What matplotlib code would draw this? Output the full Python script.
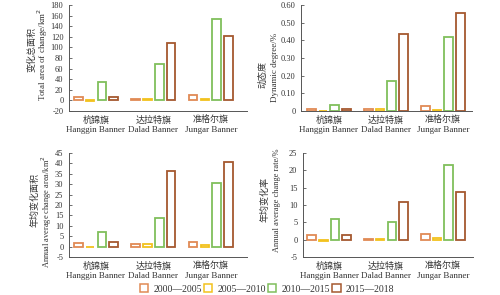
import matplotlib
matplotlib.use("Agg")
import matplotlib.pyplot as plt
from matplotlib.patches import Patch
import numpy as np

plt.rcParams['font.family'] = ['Liberation Serif', 'Noto Sans CJK SC']

categories = ["杭锦旗\nHanggin Banner", "达拉特旗\nDalad Banner", "准格尔旗\nJungar Banner"]
periods = ["2000—2005", "2005—2010", "2010—2015", "2015—2018"]
colors = ["#e08a55", "#f2c21e", "#80bf5c", "#a5582f"]

total_area = {
    "2000—2005": [6.5, 3.0, 9.5],
    "2005—2010": [-1.5, 3.0, 2.5],
    "2010—2015": [34.0, 69.0, 153.0],
    "2015—2018": [6.0, 108.0, 121.0],
}
dynamic_degree = {
    "2000—2005": [0.009, 0.009, 0.028],
    "2005—2010": [0.002, 0.009, 0.007],
    "2010—2015": [0.034, 0.167, 0.420],
    "2015—2018": [0.013, 0.436, 0.553],
}
annual_area = {
    "2000—2005": [1.9, 1.1, 2.4],
    "2005—2010": [-0.4, 1.1, 0.8],
    "2010—2015": [7.2, 13.9, 30.8],
    "2015—2018": [2.2, 36.4, 40.7],
}
annual_rate = {
    "2000—2005": [1.4, 0.3, 1.7],
    "2005—2010": [-0.3, 0.3, 0.5],
    "2010—2015": [5.9, 5.2, 21.4],
    "2015—2018": [1.4, 10.9, 13.8],
}

W, H = 500, 295
fig = plt.figure(figsize=(W / 100, H / 100), dpi=100)

def pix_axes(l, r, t, b):
    return fig.add_axes([l / W, 1 - b / H, (r - l) / W, (b - t) / H])

def pix_text(x, y, s, size):
    fig.text(x / W, 1 - y / H, s, rotation=90, ha="center", va="center",
             fontsize=size, color="#333333")

panels = [
    (pix_axes(69, 247, 5, 111), total_area, (-20, 180), np.arange(-20, 181, 20),
     (-0.47, 2.63), "int",
     [("变化总面积", 32, 50, 6.5), ("Total area of change/km$^2$", 43, 54, 6.5)]),
    (pix_axes(301, 472, 5, 111), dynamic_degree, (0, 0.6), np.arange(0, 0.61, 0.1),
     (-0.49, 2.51), "dec",
     [("动态度", 263, 74, 6.5), ("Dynamic degree/%", 275, 67, 6.5)]),
    (pix_axes(69, 247, 153, 257), annual_area, (-5, 45), np.arange(-5, 46, 5),
     (-0.47, 2.63), "int",
     [("年均变化面积", 35, 200, 6.5), ("Annual average change area/km$^2$", 47, 212, 6.0)]),
    (pix_axes(303, 473, 153, 257), annual_rate, (-5, 25), np.arange(-5, 26, 5),
     (-0.46, 2.53), "int",
     [("年均变化率", 265, 200, 6.5), ("Annual average change rate/%", 277, 200, 6.0)]),
]

x = np.arange(len(categories))
step = 0.205
width = 0.15
gray = "#555555"
for ax, data, ylim, yticks, xlim, fmt, labels in panels:
    for i, p in enumerate(periods):
        ax.bar(x + (i - 1.5) * step, data[p], width=width, facecolor="white",
               edgecolor=colors[i], linewidth=1.3)
    ax.set_ylim(*ylim)
    ax.set_xlim(*xlim)
    ax.set_yticks(yticks)
    if fmt == "dec":
        ax.set_yticklabels(["0" if v == 0 else f"{v:.2f}" for v in yticks])
    else:
        ax.set_yticklabels([f"{int(round(v))}" for v in yticks])
    ax.set_xticks(x)
    ax.set_xticklabels(categories, fontsize=6.5, color="#333333", linespacing=1.3)
    ax.tick_params(axis='x', length=0, pad=3)
    ax.tick_params(axis='y', direction='in', labelsize=6, length=2.2, width=0.6,
                   color=gray, labelcolor="#333333", pad=4)
    for s in ["top", "right"]:
        ax.spines[s].set_visible(False)
    for s in ["left", "bottom"]:
        ax.spines[s].set_color(gray)
        ax.spines[s].set_linewidth(0.7)
    for s, px, py, size in labels:
        pix_text(px, py, s, size)

handles = [Patch(facecolor="white", edgecolor=c, linewidth=1.1) for c in colors]
fig.legend(handles, periods, loc="lower center", bbox_to_anchor=(0.534, -0.025), ncol=4,
           frameon=False, fontsize=7, handlelength=0.85, handleheight=0.85,
           handletextpad=0.5, columnspacing=0.25, labelcolor="#333333")

fig.savefig("out.png", dpi=100)
